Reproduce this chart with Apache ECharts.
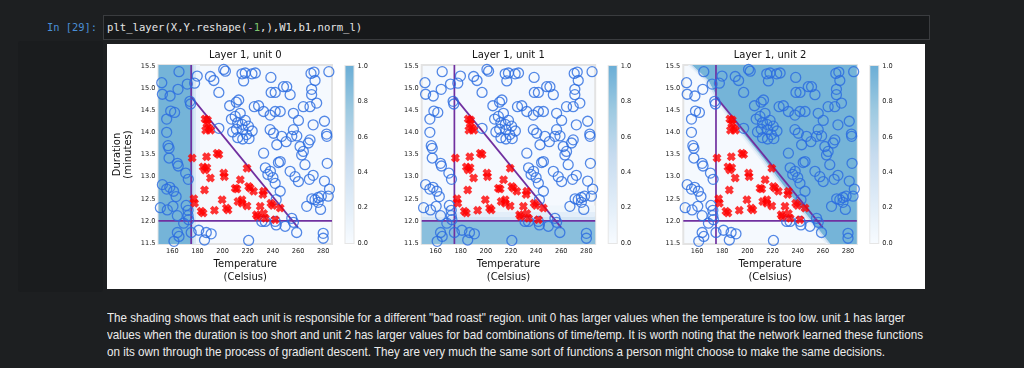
<!DOCTYPE html>
<html><head><meta charset="utf-8">
<script src="https://cdn.jsdelivr.net/npm/echarts@6/dist/echarts.min.js"></script>
<style>
html,body{margin:0;padding:0;background:#1d1f21;width:1024px;height:368px;overflow:hidden;}
#prompt{position:absolute;left:47px;top:21px;font:10.4px 'DejaVu Sans Mono',monospace;color:#4a8fd6;white-space:pre;}
#codebox{position:absolute;left:103px;top:15px;width:827px;height:25px;box-sizing:border-box;border:1px solid #3a3c3f;background:#17191b;}
#code{position:absolute;left:3px;top:5px;font:10.6px 'DejaVu Sans Mono',monospace;color:#e6e6e6;white-space:pre;}
#outprompt{position:absolute;left:18px;top:41px;width:85px;height:251px;background:#1a1c1e;border-radius:3px;}
#chart{position:absolute;left:107px;top:44px;width:818px;height:245px;background:#fff;}
.para{position:absolute;left:107px;font:13px 'Liberation Sans',Arial,sans-serif;color:#ececec;white-space:nowrap;transform-origin:0 0;line-height:16px;}
</style>
</head><body>
<div id="prompt">In [29]:</div>
<div id="codebox"><div id="code">plt_layer(X,Y.reshape(<span style="color:#c27ad8">-</span><span style="color:#7ec46f">1</span>,),W1,b1,norm_l)</div></div>
<div id="outprompt"></div>
<div id="chart"></div>
<div class="para" style="top:310px" data-w="798">The shading shows that each unit is responsible for a different "bad roast" region. unit 0 has larger values when the temperature is too low. unit 1 has larger</div>
<div class="para" style="top:327px" data-w="816">values when the duration is too short and unit 2 has larger values for bad combinations of time/temp. It is worth noting that the network learned these functions</div>
<div class="para" style="top:344px" data-w="778">on its own through the process of gradient descent. They are very much the same sort of functions a person might choose to make the same decisions.</div>
<script>
// ---------------- data ----------------
const titles = ['Layer 1, unit 0', 'Layer 1, unit 1', 'Layer 1, unit 2'];
const xTicks = [160, 180, 200, 220, 240, 260, 280];
const yTicks = [11.5, 12.0, 12.5, 13.0, 13.5, 14.0, 14.5, 15.0, 15.5];
const cbTicks = [0, 0.2, 0.4, 0.6, 0.8, 1.0];

// bad roasts (blue circles): [temperature, duration]
const badRoast = [
 [165.3,15.37],[151.6,15.12],[152.1,14.86],[158.2,14.82],[164.5,14.97],[171.9,15.09],[177.7,15.11],[179.8,15.27],
 [190.3,15.26],[193.0,15.17],[197.0,14.90],[200.9,15.42],[202.2,15.38],[215.4,15.32],[218.0,15.34],[216.7,15.16],
 [223.3,15.32],[226.0,15.34],[238.4,15.24],[248.4,15.03],[251.0,15.03],[238.6,14.90],[241.8,14.90],[253.7,14.85],
 [270.3,15.33],[272.7,15.36],[273.5,15.17],[284.5,15.37],[270.8,14.97],[270.8,14.85],[174.0,14.70],[174.5,14.64],
 [158.7,14.48],[161.8,14.45],[155.5,14.30],[155.5,14.00],[212.8,14.73],[210.9,14.68],[205.6,14.60],[225.2,14.58],
 [228.6,14.60],[232.6,14.47],[237.8,14.39],[241.8,14.47],[245.8,14.47],[256.3,14.43],[264.2,14.58],[269.5,14.58],
 [274.8,14.66],[260.3,14.27],[281.0,14.25],[207.0,14.30],[210.0,14.36],[214.0,14.43],[212.0,14.22],[215.5,14.18],
 [218.0,14.27],[220.5,14.14],[211.0,14.07],[216.0,14.06],[208.0,14.01],[212.0,13.88],[216.0,13.85],[221.0,13.86],
 [223.5,14.03],[219.0,13.95],[197.0,14.09],[237.8,14.06],[240.5,13.98],[247.0,13.91],[250.5,13.79],[256.3,14.06],
 [255.0,13.91],[259.0,13.92],[272.0,14.17],[282.7,13.96],[282.9,13.91],
 [156.6,13.70],[157.4,13.64],[157.4,13.42],[164.0,13.30],[164.7,13.24],[170.6,13.08],[172.7,12.94],[243.1,13.72],
 [261.6,13.68],[268.2,13.76],[269.5,13.83],[262.9,13.49],[264.2,13.57],[232.6,13.53],[244.4,13.32],[245.8,13.34],
 [265.5,13.27],[283.2,13.30],[234.0,13.20],[238.0,13.12],[236.0,13.05],[240.0,12.98],[241.8,12.85],[253.7,13.12],
 [257.6,13.00],[260.3,12.89],[269.0,12.94],[272.0,13.03],[281.0,12.90],[285.0,12.72],
 [152.1,12.82],[155.5,12.72],[158.0,12.76],[161.0,12.67],[163.0,12.55],[150.5,12.30],[156.0,12.25],[160.5,12.33],
 [171.0,12.35],[172.5,12.24],[172.5,12.12],[173.0,12.03],[164.0,12.12],[169.0,11.95],[164.0,11.74],[165.3,11.65],
 [161.3,11.54],[175.0,11.74],[181.0,11.79],[187.0,11.74],[190.9,11.71],[185.6,11.57],[220.7,11.56],
 [245.8,12.67],[242.6,12.48],[271.0,12.50],[273.5,12.48],[276.0,12.53],[278.5,12.56],[276.0,12.42],[284.0,12.56],
 [266.9,12.33],[277.9,12.26],[255.0,12.06],[256.3,11.97],[249.7,11.88],[242.6,11.91],[258.9,11.74],[280.0,11.72],
 [280.0,11.61],[231.2,11.99],[233.9,11.99],[241.8,11.99]
];
// good roasts (red X): [temperature, duration]
const goodRoast = [
 [186.0,14.30],[187.5,14.20],[189.0,14.10],[190.5,14.05],[186.5,14.05],[188.0,14.28],
 [175.8,13.42],[187.2,13.45],[184.5,13.22],[186.0,13.15],[187.5,13.20],[195.6,13.53],[197.0,13.50],[190.3,12.97],
 [200.9,13.08],[201.4,13.00],[185.6,12.70],[177.1,12.50],[177.7,12.40],[182.9,12.22],[184.5,12.18],[193.5,12.24],
 [199.6,12.48],[203.0,12.29],[204.3,12.25],[210.0,12.74],[211.4,12.72],[214.1,12.93],[212.2,12.44],[215.4,12.48],
 [215.4,12.40],[219.4,12.34],[220.7,12.78],[222.0,12.74],[224.6,12.67],[232.6,12.67],[232.0,12.60],[219.4,13.19],
 [226.8,12.14],[227.8,12.10],[229.9,12.33],[238.4,12.40],[240.0,12.35],[241.8,12.03],[245.8,12.29],[232.6,12.17],
 [234.0,12.06]
];
// decision lines
const tempLimit = 175;
const durLimit = 12;
const diagLine = [[175, 14.8], [260, 11.85]];

// shading of each unit (values on the 0..1 colour bar)
const unit0Bands = [[149, 175, 0.95], [175, 177, 0.6], [177, 179, 0.3], [179, 182, 0.1]];          // [T from, T to, value]
const unit1Bands = [[11.48, 12.0, 0.85], [12.0, 12.1, 0.35], [12.1, 12.2, 0.2], [12.2, 12.35, 0.08]]; // [D from, D to, value]
const unit2EdgeDur  = [15.52, 15.18, 14.81, 14.13, 13.38, 12.63, 12.03, 11.48];
const unit2EdgeTemp = [156.0, 168.7, 175.8, 192.4, 213.6, 233.3, 250.5, 266.0];
const unit2Bands = [[-3.5, -1.7, 0.15], [-1.7, 0, 0.45], [0, null, 0.95]];                          // [offset from, offset to, value]

const cmapStops = [[0, '#f7fbff'], [0.25, '#deebf7'], [0.5, '#c6dbef'], [0.75, '#9ecae1'], [1, '#6baed6']];

// ---------------- layout ----------------
const X0 = 149, X1 = 287, Y0 = 11.48, Y1 = 15.52;
const panelLeft = [51.5, 314.7, 576.3], PW = 173.5, PT = 21, PH = 179;
const CB_OFF = 187, CBW = 8, CBT = 22, CBH = 177;
const FONT = 'DejaVu Sans';

function rgb(h){return [parseInt(h.slice(1,3),16),parseInt(h.slice(3,5),16),parseInt(h.slice(5,7),16)];}
function cmap(v){
  v = Math.max(0, Math.min(1, v));
  for (let i = 1; i < cmapStops.length; i++) {
    const [p0, c0] = cmapStops[i-1], [p1, c1] = cmapStops[i];
    if (v <= p1) { const t = (v-p0)/(p1-p0), a = rgb(c0), b = rgb(c1);
      return 'rgb(' + a.map((x,k)=>Math.round(x+(b[k]-x)*t)).join(',') + ')'; }
  }
  return cmapStops[cmapStops.length-1][1];
}
const clampX = x => Math.max(X0, Math.min(X1, x));

const renderers = [
  function(params, api){ // unit 0: vertical bands
    const p0 = api.coord([api.value(0), Y1]), p1 = api.coord([api.value(1), Y0]);
    return {type:'rect', shape:{x:p0[0], y:p0[1], width:p1[0]-p0[0], height:p1[1]-p0[1]}, style:{fill:cmap(api.value(2))}};
  },
  function(params, api){ // unit 1: horizontal bands
    const p0 = api.coord([X0, api.value(1)]), p1 = api.coord([X1, api.value(0)]);
    return {type:'rect', shape:{x:p0[0], y:p0[1], width:p1[0]-p0[0], height:p1[1]-p0[1]}, style:{fill:cmap(api.value(2))}};
  },
  function(params, api){ // unit 2: bands along the slanted edge
    const b = unit2Bands[params.dataIndex];
    const pts = [];
    for (let i = 0; i < unit2EdgeDur.length; i++) pts.push(api.coord([clampX(unit2EdgeTemp[i] + b[0]), unit2EdgeDur[i]]));
    for (let i = unit2EdgeDur.length - 1; i >= 0; i--) pts.push(api.coord([b[1] === null ? X1 : clampX(unit2EdgeTemp[i] + b[1]), unit2EdgeDur[i]]));
    return {type:'polygon', shape:{points:pts}, style:{fill:cmap(b[2])}};
  }
];
const shadeData = [unit0Bands, unit1Bands, unit2Bands.map(b => [b[0], b[1] === null ? 0 : b[1], b[2]])];

const grid = [], xAxis = [], yAxis = [], series = [], graphic = [];
const xSym = 'path://M0,3L3,0L5,2L7,0L10,3L8,5L10,7L7,10L5,8L3,10L0,7L2,5Z';
for (let i = 0; i < 3; i++) {
  const pg = 2*i, cg = 2*i+1;
  grid.push({left:panelLeft[i], top:PT, width:PW, height:PH, show:true, backgroundColor:'#f5f9fe',
             borderColor:'#e3e3e3', borderWidth:2, containLabel:false, outerBoundsMode:'none'});
  grid.push({left:panelLeft[i]+CB_OFF, top:CBT, width:CBW, height:CBH, show:true, backgroundColor:'transparent',
             borderColor:'#e6e6e6', borderWidth:2, containLabel:false, outerBoundsMode:'none'});
  xAxis.push({gridIndex:pg, type:'value', min:X0, max:X1,
    axisLine:{show:false}, axisTick:{show:false}, splitLine:{show:false},
    axisLabel:{customValues:xTicks, fontSize:6.6, color:'#222', margin:4, fontFamily:FONT},
    name:'Temperature\n(Celsius)', nameLocation:'middle', nameGap:14, nameMoveOverlap:false,
    nameTextStyle:{fontSize:10, lineHeight:12.7, color:'#111', fontFamily:FONT, verticalAlign:'top'}});
  const ya = {gridIndex:pg, type:'value', min:Y0, max:Y1,
    axisLine:{show:false}, axisTick:{show:false}, splitLine:{show:false},
    axisLabel:{customValues:yTicks, fontSize:6.6, color:'#222', margin:3, fontFamily:FONT, formatter:v=>v.toFixed(1)}};
  if (i === 0) Object.assign(ya, {name:'Duration\n(minutes)', nameLocation:'middle', nameGap:24, nameMoveOverlap:false,
    nameTextStyle:{fontSize:10, lineHeight:11.5, color:'#111', fontFamily:FONT}});
  yAxis.push(ya);
  xAxis.push({gridIndex:cg, type:'category', data:['cb'], show:false});
  yAxis.push({gridIndex:cg, type:'value', min:0, max:1, interval:0.2, position:'right',
    axisLine:{show:false}, axisTick:{show:false}, splitLine:{show:false},
    axisLabel:{fontSize:6.6, color:'#222', margin:4, fontFamily:FONT, formatter:v=>v.toFixed(1)}});

  series.push({type:'custom', xAxisIndex:pg, yAxisIndex:pg, data:shadeData[i], renderItem:renderers[i], z:1, silent:true, clip:true});
  const lineStyle = {color:'#7030a0', width:1.7};
  series.push({type:'line', xAxisIndex:pg, yAxisIndex:pg, data:[[tempLimit, Y0],[tempLimit, Y1]], symbol:'none', lineStyle, z:3, silent:true});
  series.push({type:'line', xAxisIndex:pg, yAxisIndex:pg, data:[[X0, durLimit],[X1, durLimit]], symbol:'none', lineStyle, z:3, silent:true});
  series.push({type:'line', xAxisIndex:pg, yAxisIndex:pg, data:diagLine, symbol:'none', lineStyle, z:3, silent:true});
  series.push({type:'scatter', xAxisIndex:pg, yAxisIndex:pg, data:badRoast, symbol:'circle', symbolSize:10, z:4, silent:true,
    itemStyle:{color:'rgba(0,0,0,0)', borderColor:'#2a6ce0', borderWidth:1.3}});
  series.push({type:'scatter', xAxisIndex:pg, yAxisIndex:pg, data:goodRoast, symbol:xSym, symbolSize:9, z:5, silent:true,
    itemStyle:{color:'#ff0000'}});
  series.push({type:'bar', xAxisIndex:cg, yAxisIndex:cg, data:[1], barWidth:'100%', silent:true, z:2,
    itemStyle:{color:{type:'linear', x:0, y:0, x2:0, y2:1,
      colorStops: cmapStops.slice().reverse().map(([p,c]) => ({offset:1-p, color:c}))}}});
  graphic.push({type:'text', x:panelLeft[i]+PW/2, y:11, silent:true,
    style:{text:titles[i], textAlign:'center', textVerticalAlign:'middle', fontSize:10, fontFamily:FONT, fill:'#111'}});
}

const chart = echarts.init(document.getElementById('chart'));
chart.setOption({animation:false, backgroundColor:'#ffffff', grid, xAxis, yAxis, series, graphic});

document.querySelectorAll('.para').forEach(el => {
  const w = el.getBoundingClientRect().width;
  el.style.transform = 'scaleX(' + (+el.dataset.w / w) + ')';
});
</script>
</body></html>
